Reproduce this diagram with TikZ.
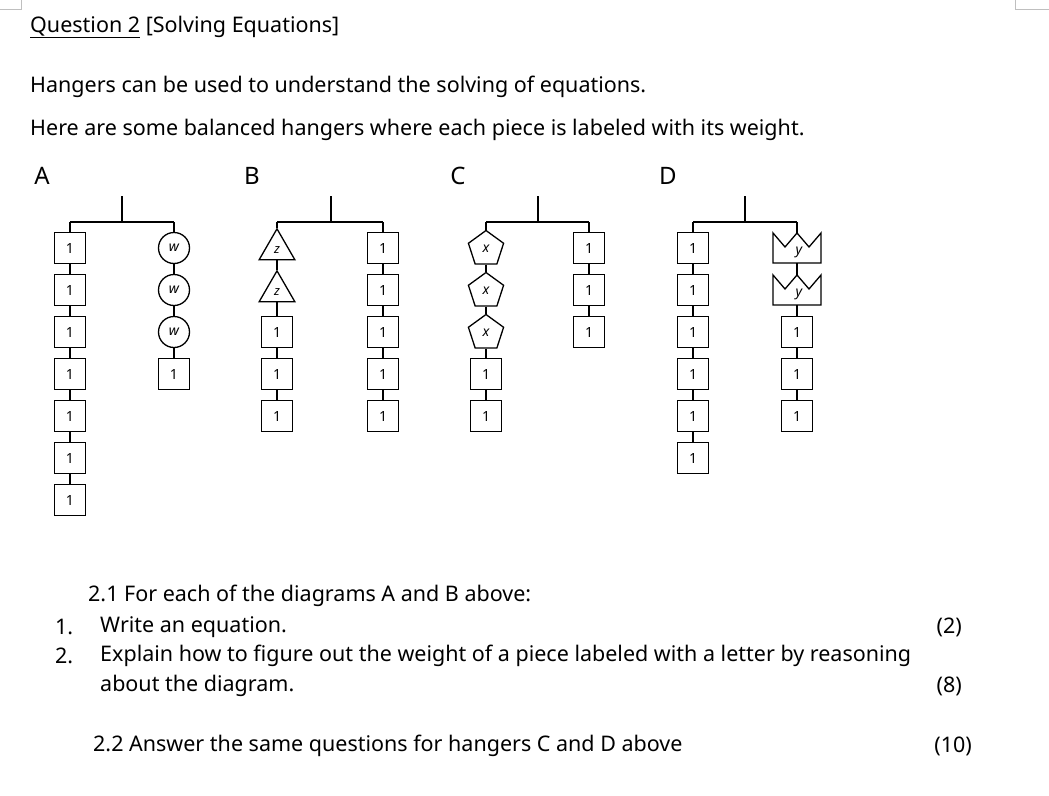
\documentclass[tikz,border=0pt]{standalone}
\usepackage{fontspec}
\setmainfont{Noto Sans}
\usetikzlibrary{shapes.geometric}
\begin{document}
\begin{tikzpicture}[x=1pt,y=-1pt,
  txt/.style={anchor=west,inner sep=0pt,font=\fontsize{21.5}{24}\selectfont},
  hl/.style={anchor=center,inner sep=0pt,font=\fontsize{24}{26}\selectfont},
  bx/.style={draw,line width=1.3pt,minimum width=31pt,minimum height=31pt,inner sep=0pt,font=\fontsize{14}{14}\selectfont},
  cir/.style={draw,circle,line width=1.3pt,minimum size=31pt,inner sep=0pt,font=\fontsize{14}{14}\selectfont\itshape},
  tri/.style={draw,isosceles triangle,shape border rotate=90,isosceles triangle apex angle=60,line width=1.3pt,minimum height=31pt,inner sep=0pt,font=\fontsize{13}{13}\selectfont\itshape},
  pen/.style={draw,regular polygon,regular polygon sides=5,line width=1.3pt,minimum size=37pt,inner sep=0pt,font=\fontsize{14}{14}\selectfont\itshape},
  bar/.style={line width=2.6pt},
  con/.style={line width=2.2pt},
  crn/.style={line width=1.3pt}]
\useasboundingbox (0,0) rectangle (1049,795);
\draw[gray!50,line width=0.8pt] (0,9)--(21,9)--(21,0) (1049,9)--(1015,9)--(1015,0);
% texts
\node[txt] (t0) at (30,27) {\underline{Question 2} [Solving Equations]};
\node[txt] (t1) at (30,87) {Hangers can be used to understand the solving of equations.};
\node[txt] (t2) at (30,130) {Here are some balanced hangers where each piece is labeled with its weight.};
\node[hl] (hA) at (42,176) {A};
\node[hl] (hB) at (252,176) {B};
\node[hl] (hC) at (458,176) {C};
\node[hl] (hD) at (668,176) {D};
\node[txt] (q1) at (88,596) {2.1 For each of the diagrams A and B above:};
\node[txt] (n1) at (55,627) {1.};
\node[txt] (q2) at (100,627) {Write an equation.};
\node[txt,anchor=east] (m1) at (962,627) {(2)};
\node[txt] (n2) at (55,656) {2.};
\node[txt] (q3) at (100,656) {Explain how to figure out the weight of a piece labeled with a letter by reasoning};
\node[txt] (q4) at (100,686) {about the diagram.};
\node[txt,anchor=east] (m2) at (962,686) {(8)};
\node[txt] (q5) at (93,746) {2.2 Answer the same questions for hangers C and D above};
\node[txt,anchor=east] (m3) at (972,746) {(10)};
% hanger A
\coordinate (Atop) at (122,196); \coordinate (Amid) at (122,222);
\draw[bar] (Atop)--(Amid) (70,222)--(174,222);
\foreach \i in {0,...,6}{\node[bx] (A\i) at (70,{248+42*\i}) {1};}
\draw[con] (70,222)--(A0.north);
\foreach \i [evaluate=\i as \j using int(\i+1)] in {0,...,5}{\draw[con] (A\i.south)--(A\j.north);}
\foreach \i in {0,1,2}{\node[cir] (Aw\i) at (174,{248+42*\i}) {w};}
\node[bx] (Aw3) at (174,374) {1};
\draw[con] (174,222)--(Aw0.north) (Aw0.south)--(Aw1.north) (Aw1.south)--(Aw2.north) (Aw2.south)--(Aw3.north);
% hanger B
\draw[bar] (331,196)--(331,222) (277,222)--(383,222);
\node[tri] (B0) at (277,250) {z};
\node[tri] (B1) at (277,292) {z};
\node[bx] (B2) at (277,332) {1};
\node[bx] (B3) at (277,374) {1};
\node[bx] (B4) at (277,416) {1};
\draw[con] (277,222)--(B0.apex) (B0.south)--(B1.apex) (B1.south)--(B2.north) (B2.south)--(B3.north) (B3.south)--(B4.north);
\foreach \i in {0,...,4}{\node[bx] (Br\i) at (383,{248+42*\i}) {1};}
\draw[con] (383,222)--(Br0.north);
\foreach \i [evaluate=\i as \j using int(\i+1)] in {0,...,3}{\draw[con] (Br\i.south)--(Br\j.north);}
% hanger C
\draw[bar] (538,196)--(538,222) (486,222)--(589,222);
\foreach \i in {0,1,2}{\node[pen] (C\i) at (486,{249+42*\i}) {x};}
\node[bx] (C3) at (486,374) {1};
\node[bx] (C4) at (486,416) {1};
\draw[con] (486,222)--(C0.corner 1) (C0.side 3)--(C1.corner 1) (C1.side 3)--(C2.corner 1) (C2.side 3)--(C3.north) (C3.south)--(C4.north);
\foreach \i in {0,1,2}{\node[bx] (Cr\i) at (589,{248+42*\i}) {1};}
\draw[con] (589,222)--(Cr0.north) (Cr0.south)--(Cr1.north) (Cr1.south)--(Cr2.north);
% hanger D
\draw[bar] (745,196)--(745,222) (693,222)--(797,222);
\foreach \i in {0,...,5}{\node[bx] (D\i) at (693,{248+42*\i}) {1};}
\draw[con] (693,222)--(D0.north);
\foreach \i [evaluate=\i as \j using int(\i+1)] in {0,...,4}{\draw[con] (D\i.south)--(D\j.north);}
\foreach \i in {0,1}{
  \coordinate (Dy\i) at (797,{233+42*\i});
  \draw[crn,line join=miter] (773,{233+42*\i})--(785,{247+42*\i})--(Dy\i)--(809,{247+42*\i})--(821,{233+42*\i})--(821,{263+42*\i})--(773,{263+42*\i})--cycle;
  \node[font=\fontsize{14}{14}\selectfont\itshape] (Dyl\i) at (799,{252+42*\i}) {y};
  \coordinate (Dyb\i) at (797,{263+42*\i});
}
\node[bx] (D2r) at (797,332) {1};
\node[bx] (D3r) at (797,374) {1};
\node[bx] (D4r) at (797,416) {1};
\draw[con] (797,222)--(Dy0) (Dyb0)--(Dy1) (Dyb1)--(D2r.north) (D2r.south)--(D3r.north) (D3r.south)--(D4r.north);
\end{tikzpicture}
\end{document}
